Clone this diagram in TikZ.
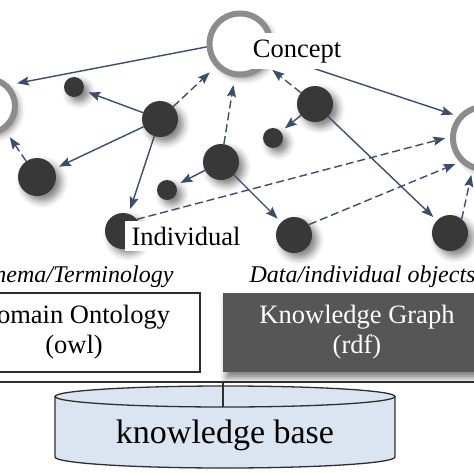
\documentclass[tikz,border=0pt]{standalone}
\usepackage{fontspec}
\setmainfont{Liberation Serif}
\usetikzlibrary{positioning, arrows.meta, shadows.blur}
\definecolor{ringgray}{HTML}{8C8C8C}
\definecolor{dotgray}{HTML}{383838}
\definecolor{arrowblue}{HTML}{3C4C6B}
\definecolor{boxgray}{HTML}{565656}
\definecolor{kbblue}{HTML}{DBE5F1}
\definecolor{linegray}{HTML}{2E2E2E}

\begin{document}
\begin{tikzpicture}[x=1pt, y=-1pt,
    ring/.style={circle, draw=ringgray, line width=6pt, fill=white, inner sep=0pt,
        blur shadow={shadow xshift=4pt, shadow yshift=-4pt, shadow blur radius=6pt, shadow opacity=45}},
    dot/.style={circle, fill=dotgray, inner sep=0pt, minimum size=36pt,
        blur shadow={shadow xshift=5pt, shadow yshift=-5pt, shadow blur radius=7pt, shadow opacity=50}},
    smalldot/.style={dot, minimum size=20pt},
    arr/.style={draw=arrowblue, line width=1.4pt, shorten >=5pt, -{Stealth[length=12pt, width=9pt, inset=2pt]}},
    darr/.style={arr, dash pattern=on 8pt off 4pt},
    farend/.style={shorten >=8pt},
    lbl/.style={fill=white, inner xsep=7pt, inner ysep=6pt, font=\fontsize{26.5}{30}\selectfont},
    captext/.style={font=\itshape\fontsize{24}{28}\selectfont},
    ontobox/.style={draw=linegray, line width=1.6pt, fill=white, minimum width=252pt, minimum height=79pt,
        align=center, font=\fontsize{26.5}{30}\selectfont},
    kgbox/.style={fill=boxgray, text=white, minimum width=268pt, minimum height=79pt, align=center,
        font=\fontsize{26.5}{30}\selectfont,
        blur shadow={shadow xshift=3pt, shadow yshift=-6pt, shadow blur radius=6pt, shadow opacity=50}}]
    \clip (0,0) rectangle (474,474);

    \node[ring, minimum size=61pt] (concept) at (240,44) {};
    \node[ring, minimum size=54pt] (lring) at (-12,106) {};
    \node[ring, minimum size=62pt] (rring) at (484,138) {};

    \node[smalldot] (a) at (74,87) {};
    \node[dot] (b) at (160,119) {};
    \node[dot, minimum size=38pt] (c) at (37,177) {};
    \node[dot] (d) at (221,162) {};
    \node[smalldot] (e) at (167,190) {};
    \node[dot] (f) at (123,231) {};
    \node[dot] (g) at (315,104) {};
    \node[smalldot] (h) at (273,138) {};
    \node[dot] (i) at (294,235) {};
    \node[dot] (j) at (450,233) {};

    \draw[arr, farend] (concept.185) -- (lring.45);
    \draw[arr] (b) -- (a);
    \draw[darr, farend] (b) -- (concept);
    \draw[arr] (b) -- (c);
    \draw[arr] (b) -- (f);
    \draw[darr, farend] (c) -- (lring.-55);
    \draw[darr, farend] (d) -- (concept);
    \draw[arr] (d) -- (e);
    \draw[arr] (d) -- (i);
    \draw[darr] (f.40) -- (rring.178);
    \draw[darr] (i.35) -- (rring.225);
    \draw[darr] (j.50) -- (rring.250);
    \draw[darr, farend] (g) -- (concept);
    \draw[arr] (g) -- (h);
    \draw[arr] (g) -- (j);
    \draw[arr] (concept) -- (rring.140);

    \node[lbl, anchor=base] (conceptlbl) at (297,57) {Concept};
    \node[lbl, anchor=base] (indlbl) at (186,245) {Individual};

    \node[captext, anchor=base east] (schema) at (177,282) {Schema/Terminology};
    \node[captext, anchor=base west] (data) at (246,282) {Data/individual objects};

    \node[ontobox] (onto) at (74,332.5) {Domain Ontology\\(owl)};
    \node[kgbox] (kg) at (357,332.5) {Knowledge Graph\\(rdf)};

    \filldraw[draw=linegray, line width=1.3pt, fill=kbblue] (55,396.5) -- (55,457)
        arc[start angle=180, end angle=0, x radius=170, y radius=11] -- (395,396.5);
    \filldraw[draw=linegray, line width=1.3pt, fill=kbblue] (225,396.5) ellipse [x radius=170, y radius=10.5];
    \node[font=\fontsize{34}{40}\selectfont] (kb) at (225,435) {knowledge base};

    \coordinate (barl) at (0,382);
    \coordinate (barr) at (474,382);
    \coordinate (bartap) at (223,382);
    \coordinate (kbtop) at (223,407);
    \draw[linegray, line width=1.3pt] (barl) -- (barr);
    \draw[linegray, line width=1.3pt] (bartap) -- (kbtop);
\end{tikzpicture}
\end{document}
